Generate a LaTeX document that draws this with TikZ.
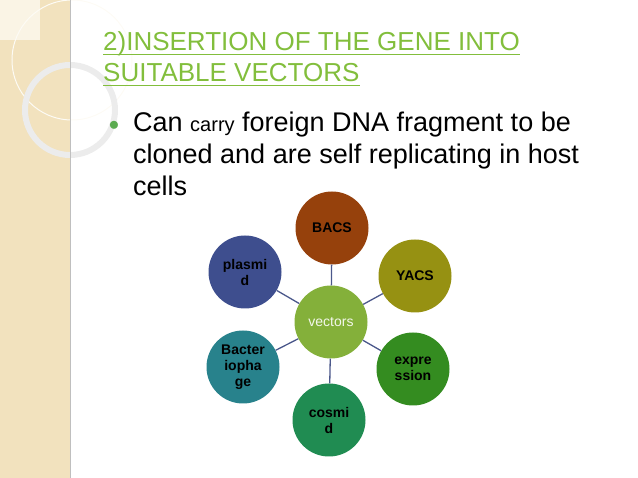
\documentclass[tikz,border=0pt]{standalone}
\usepackage{fontspec}
\setmainfont{Liberation Sans}
\definecolor{beige}{RGB}{242,226,190}
\definecolor{ttl}{RGB}{130,190,60}
\definecolor{cB}{RGB}{150,65,12}
\definecolor{cY}{RGB}{150,145,18}
\definecolor{cE}{RGB}{52,140,32}
\definecolor{cC}{RGB}{32,140,82}
\definecolor{cBa}{RGB}{40,130,140}
\definecolor{cP}{RGB}{62,78,142}
\definecolor{cV}{RGB}{132,176,58}
\tikzset{bub/.style={circle,minimum size=73pt,inner sep=0pt,align=center,font=\bfseries\fontsize{14}{16}\selectfont,text width=56pt},
 link/.style={draw=cP!80!gray,line width=1.3pt},
 ttlt/.style={anchor=base west,text=ttl,font=\fontsize{26}{28}\selectfont,inner sep=0pt}}
\begin{document}
\begin{tikzpicture}[x=1pt,y=-1pt]
\useasboundingbox (0,0) rectangle (638,478);
\fill[beige] (0,0) rectangle (70,478);
\fill[white!60!beige] (0,0) rectangle (40,40);
\draw[white!85!beige,line width=1pt] (72,60) circle (60);
\draw[white!85!gray,line width=6pt] (70,110) circle (45);
\draw[black!25,line width=0.8pt] (70,0) -- (70,478);
\node[ttlt] (t1) at (103,51) {2)INSERTION OF THE GENE INTO};
\node[ttlt] (t2) at (103,82) {SUITABLE VECTORS};
\draw[ttl,line width=1.2pt] ([yshift=-3.5pt]t1.base west) -- ([yshift=-3.5pt]t1.base east);
\draw[ttl,line width=1.2pt] ([yshift=-3.5pt]t2.base west) -- ([yshift=-3.5pt]t2.base east);
\node[text=ttl!70!teal,font=\fontsize{20}{20}\selectfont] (b) at (114,126) {$\bullet$};
\node[anchor=north west,align=left,font=\fontsize{27}{32}\selectfont,inner sep=0pt] (p) at (133,112) {Can {\fontsize{20}{20}\selectfont carry} foreign DNA fragment to be\\cloned and are self replicating in host\\cells};
\node[bub,fill=cV,font=\fontsize{14}{16}\selectfont,text=white!90!cV] (v) at (331,322) {vectors};
\node[bub,fill=cB] (a) at (332,228) {BACS};
\node[bub,fill=cY] (y) at (415,276) {YACS};
\node[bub,fill=cE] (e) at (413,369) {expre\\ssion};
\node[bub,fill=cC] (c) at (329,420) {cosmi\\d};
\node[bub,fill=cBa] (ba) at (243,367) {Bacter\\iopha\\ge};
\node[bub,fill=cP] (pl) at (245,272) {plasmi\\d};
\foreach \n in {a,y,e,c,ba,pl} \draw[link] (v) -- (\n);
\end{tikzpicture}
\end{document}
